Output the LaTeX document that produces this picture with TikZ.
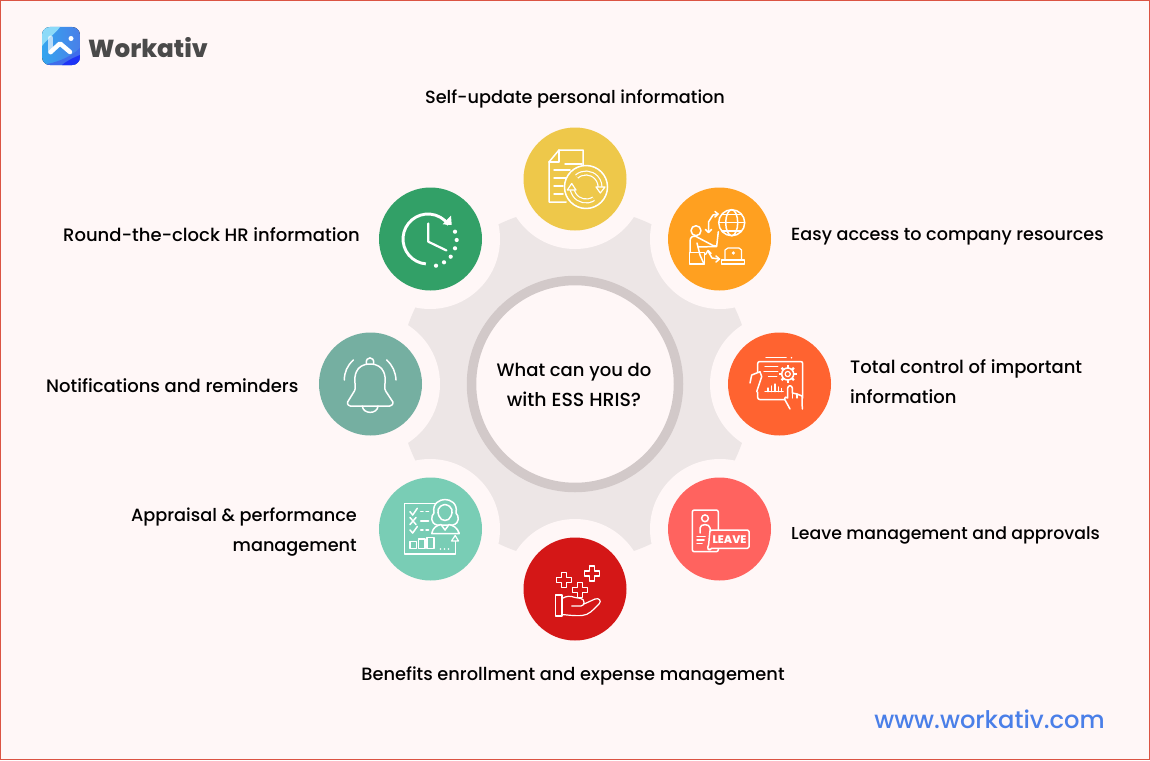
\documentclass[tikz,border=0pt]{standalone}
\usepackage{fontspec}
\setmainfont{Poppins Medium}
\usetikzlibrary{arrows.meta}
\definecolor{bgc}{HTML}{FFF7F7}
\definecolor{edgec}{HTML}{DB5443}
\definecolor{gearc}{HTML}{EDE6E6}
\definecolor{ringc}{HTML}{D2C9C9}
\definecolor{ca}{HTML}{EEC84A}
\definecolor{cb}{HTML}{FFA020}
\definecolor{cc}{HTML}{FF6330}
\definecolor{cd}{HTML}{FF635F}
\definecolor{ce}{HTML}{D41717}
\definecolor{cf}{HTML}{79CDB5}
\definecolor{cg}{HTML}{75AFA1}
\definecolor{ch}{HTML}{32A067}
\definecolor{urlc}{HTML}{4A7FE8}
\definecolor{logoc}{HTML}{4A4A4A}
\newcommand{\fs}[1]{\fontsize{#1}{30}\selectfont}
\tikzset{x=1pt,y=-1pt,
 lab/.style={font=\fs{18},text=black,inner sep=0pt},
 disc/.style={circle,minimum size=103pt,inner sep=0pt,fill=#1},
 halo/.style={circle,minimum size=140pt,inner sep=0pt,fill=bgc},
 ic/.style={draw=white,line width=1.5pt,line cap=round,line join=round}}
\newcommand{\plusshape}[2]{\draw[ic,fill=ce,line width=1.2pt] (#1-2.5,#2-7.5) -- (#1+2.5,#2-7.5) -- (#1+2.5,#2-2.5) -- (#1+7.5,#2-2.5) -- (#1+7.5,#2+2.5) -- (#1+2.5,#2+2.5) -- (#1+2.5,#2+7.5) -- (#1-2.5,#2+7.5) -- (#1-2.5,#2+2.5) -- (#1-7.5,#2+2.5) -- (#1-7.5,#2-2.5) -- (#1-2.5,#2-2.5) -- cycle;}
\begin{document}
\begin{tikzpicture}
\useasboundingbox (0,0) rectangle (1150,760);
\fill[bgc] (0,0) rectangle (1150,760);
\draw[edgec,line width=1pt] (0.5,0.5) rectangle (1149.5,759.5);
% gear
\node[circle,minimum size=354pt,inner sep=0pt,fill=gearc] (gear) at (575,384) {};
\foreach \n/\x/\y in {ha/575/179,hb/720/239,hc/780/384,hd/720/529,he/575/589,hf/430/529,hg/370/384,hh/430/239}
  \node[halo] (\n) at (\x,\y) {};
\node[circle,minimum size=207pt,inner sep=0pt,fill=bgc,draw=ringc,line width=9.5pt] (ring) at (575,384) {};
% discs
\node[disc=ca] (da) at (575,179) {};
\node[disc=cb] (db) at (719.5,239) {};
\node[disc=cc] (dc) at (779.5,384) {};
\node[disc=cd] (dd) at (719.5,529) {};
\node[disc=ce] (de) at (575,589) {};
\node[disc=cf] (df) at (430.5,529) {};
\node[disc=cg] (dg) at (370.5,384) {};
\node[disc=ch] (dh) at (430.5,239) {};
% labels
\node[lab,align=center] (center) at (574,385) {What can you do\\{\fs{18.9}with ESS HRIS?}};
\node[lab,anchor=base,font=\fs{17.7}] (la) at (575,103) {Self-update personal information};
\node[lab,anchor=base west,font=\fs{17.6}] (lb) at (791,240) {Easy access to company resources};
\node[lab,anchor=west,align=left] (lc) at (850,382) {Total control of important\\information};
\node[lab,anchor=base west,font=\fs{17.3}] (ld) at (791,539) {Leave management and approvals};
\node[lab,anchor=base,font=\fs{17.8}] (le) at (573,680) {Benefits enrollment and expense management};
\node[lab,anchor=east,align=right,font=\fs{17.7}] (lf) at (357,532) {Appraisal \& performance\\management};
\node[lab,anchor=base west] (lg) at (46,392) {Notifications and reminders};
\node[lab,anchor=base west] (lh) at (63,241) {Round-the-clock HR information};
\node[inner sep=0pt,anchor=base east,text=urlc,font=\fontsize{24.2}{24}\selectfont] (url) at (1105,728) {www.workativ.com};
% logo
\begin{scope}
\clip[rounded corners=8pt] (42,27) rectangle (80,65);
\fill[left color=urlc!70!cyan,right color=urlc] (42,27) rectangle (80,65);
\fill[cyan!45!white] (42,27) -- (60,27) .. controls (55,34) and (48,38) .. (42,46) -- cycle;
\fill[urlc!85!blue] (42,65) .. controls (55,63) and (70,58) .. (80,48) -- (80,65) -- cycle;
\fill[blue!60!urlc] (62,65) .. controls (68,60) and (75,57) .. (80,55) -- (80,65) -- cycle;
\end{scope}
\draw[white,opacity=.65,line width=5pt,line cap=round] (50.7,38) -- (50.7,52);
\draw[white,line width=4.5pt,line cap=round,line join=round] (50.7,52) -- (60,43.5) -- (70,52);
\fill[white] (71,38.5) circle[radius=2.5];
\node[inner sep=0pt,anchor=base west,text=logoc,font=\fontsize{24.6}{26}\selectfont\bfseries] (logo) at (88,57) {Workativ};
% icon: document + refresh
\draw[ic] (566,202) -- (549,202) -- (549,162) -- (559,150) -- (583,150) -- (583,167);
\draw[ic] (549,162) -- (559,162) -- (559,150);
\foreach \a/\b/\c in {565/582/164,554/570/170,554/566/178,554/563/186,554/563/194} \draw[ic] (\a,\c) -- (\b,\c);
\draw[ic,fill=ca] (586,187) circle[radius=21.5];
\draw[white,double=ca,line width=1.2pt,double distance=2.6pt] (586,187)+(-132:14) arc[start angle=-132,end angle=10,radius=14];
\draw[white,double=ca,line width=1.2pt,double distance=2.6pt] (586,187)+(57:14) arc[start angle=57,end angle=178,radius=14];
\draw[ic,fill=ca,line width=1.2pt] (596,187) -- (605,187) -- (600.3,193) -- cycle;
\draw[ic,fill=ca,line width=1.2pt] (567.3,190) -- (576,190) -- (571.7,183.5) -- cycle;
% icon: person, globe, laptop
\draw[ic] (696,230.7) circle[radius=5];
\draw[ic] (690,252.7) -- (690,241) .. controls (690,237) and (693,235.5) .. (696,236.5) -- (713,245.5) -- (716.7,246) -- (718.3,231.7);
\draw[ic] (698,247) -- (716.7,246.5);
\draw[ic] (697,243) -- (700,255) -- (704,264);
\draw[ic] (689.5,252.7) rectangle (704.5,264);
\draw[ic] (731.7,222.7) circle[radius=13];
\draw[ic] (731.7,222.7) ellipse[x radius=6,y radius=13];
\draw[ic] (719,222.7) -- (744.7,222.7) (722,214.5) -- (741.5,214.5) (722,231) -- (741.5,231);
\draw[ic] (718,214) -- (713,215) -- (708.5,222) -- (708.5,232);
\draw[ic] (715,211.5) -- (718,214) -- (715,217);
\draw[ic] (705.5,229.5) -- (708.5,232.5) -- (711.5,229.5);
\draw[ic,line width=1.2pt] (725,260) -- (725,250) -- (728,248) -- (739,248) -- (741.5,250) -- (741.5,260);
\draw[ic,line width=1.2pt] (721.7,260) rectangle (744.3,264);
\fill[white] (733.3,253) circle[radius=1.8];
\draw[ic] (708.5,252) -- (712,258) -- (719,259);
\draw[ic] (705.5,254.5) -- (708,250.5) -- (711,253.5);
\draw[ic] (716,256) -- (719.5,259) -- (716,262);
% icon: tablet, gear, hands
\draw[ic] (766,357.7) -- (786,357.7);
\fill[white] (791.5,357.7) circle[radius=.9];
\draw[ic,rounded corners=2pt] (757.7,372) -- (757.7,361.5) -- (802.7,361.5) -- (802.7,399.5) -- (757.7,399.5) -- (757.7,392);
\foreach \a in {0,45,...,315}
  \draw[white,line width=2.2pt] (787.7,374)+(\a:5.5) -- +(\a:8.8);
\draw[ic,fill=cc] (787.7,374) circle[radius=6];
\draw[ic,line width=1.2pt] (787.7,374) circle[radius=2.6];
\draw[ic] (765,366.7) -- (777.7,366.7) (764,371.7) -- (777.7,371.7) (768.5,376.7) -- (776.7,376.7);
\draw[ic] (765,391.7) -- (783,391.7);
\draw[ic,line width=1.2pt] (768,391.7) -- (768,388) (771.5,391.7) -- (771.5,386) (775,391.7) -- (775,384) (778.5,391.7) -- (778.5,387) (781.5,391.7) -- (781.5,388.5);
\draw[ic] (750,383) -- (751.7,375) -- (760,371.7) -- (761.7,376.7) -- (756.7,391.7);
\draw[ic,fill=cc] (790,409) -- (784.5,399) .. controls (784.5,397) and (786,396.5) .. (787.7,398) -- (787.7,388) .. controls (788,385) and (792,385) .. (792.3,388) -- (792.3,393) -- (797,394) -- (802,396) -- (802.3,409);
\draw[ic,line width=1.2pt] (797,394) -- (797,398) (792.5,393) -- (792.5,398);
% icon: leave
\draw[ic,rounded corners=2pt] (692.3,510) rectangle (718.3,551.7);
\draw[ic] (705,518.3) circle[radius=3.4];
\draw[ic] (700,533) -- (700,528) .. controls (700,523.5) and (710,523.5) .. (710,528) -- (710,531);
\draw[ic] (697,536.5) -- (705,536.5) (697,540) -- (704,540) (697,543.5) -- (702,543.5);
\draw[ic,fill=cd,rounded corners=1.5pt] (710,530) -- (749,530) -- (749,548.3) -- (710,548.3) -- (710,550.5) -- (707,548.5) -- (708.5,546) -- cycle;
\node[inner sep=0pt,text=white,font=\fontsize{11}{11}\selectfont\bfseries] (leave) at (729.5,539.3) {LEAVE};
% icon: plus and hand
\plusshape{564}{580}
\plusshape{591.7}{573.5}
\plusshape{580}{590}
\draw[ic,line width=1.2pt] (555.7,595) rectangle (562,616);
\draw[ic,line width=1.2pt] (562,598.5) .. controls (567,595.5) and (571,596) .. (575,597.5) -- (581,598.5) .. controls (585,599) and (585,606) .. (581,606) -- (571.7,606);
\draw[ic,line width=1.2pt] (584,604) -- (595,599) .. controls (599,597.5) and (602,601) .. (599,604) .. controls (593,610) and (589,615) .. (582,615.5) .. controls (574,616) and (568,615) .. (562,614.5);
% icon: appraisal
\draw[ic] (436,503.5) -- (404.5,503.5) -- (404.5,554) -- (455.7,554) -- (455.7,540);
\draw[ic] (410,511.7) -- (412.7,515) -- (417.3,508.3);
\draw[ic] (420.7,511.7) -- (423,511.7) (426,511.7) -- (428.5,511.7);
\draw[ic] (410,517.5) -- (416,524.5) (416,517.5) -- (410,524.5);
\draw[ic] (420.7,521) -- (428.5,521);
\draw[ic] (410,530) -- (412.7,533) -- (417.3,526.5);
\draw[ic] (420.7,530) -- (423,530) (426,530) -- (428.5,530);
\draw[ic,line width=1.2pt] (410,548.3) rectangle (416.5,541.5) (418.5,548.3) rectangle (425,539) (427,548.3) rectangle (434,537.5);
\fill[white] (440.5,549) circle[radius=.8] (444.5,549) circle[radius=.8] (448.5,549) circle[radius=.8];
\draw[ic,fill=cf] (437,525) .. controls (430,523) and (431,516) .. (434,513) .. controls (432,503) and (440,499.5) .. (445,499.5) .. controls (450,499.5) and (458,503) .. (456,513) .. controls (459,516) and (460,523) .. (453,525) -- cycle;
\draw[ic,fill=cf] (445,504.5) .. controls (437,506) and (437,512) .. (439,516) .. controls (441,522) and (449,522) .. (451,516) .. controls (453,512) and (453,506) .. (445,504.5) -- cycle;
\draw[ic,fill=cf] (431.7,533.5) .. controls (433,527) and (437,525.5) .. (441,524.5) -- (445,530) -- (449,524.5) .. controls (453,525.5) and (457,527) .. (459.3,533.5) -- cycle;
\draw[ic,fill=cf,line width=1.2pt] (451.5,541) -- (455.2,535.5) -- (458.5,541) -- cycle;
% icon: bell
\draw[ic] (366.5,363.5) .. controls (365,356) and (375,356) .. (373.5,363.5);
\draw[ic,rounded corners=1.2pt] (349,406) -- (347,403) -- (355,390) .. controls (355.5,385) and (354,378) .. (356,373) .. controls (358,367) and (364,364) .. (370,364) .. controls (376,364) and (382,367) .. (384,373) .. controls (386,378) and (384.5,385) .. (385,390) -- (393.5,403) -- (391,406) -- cycle;
\draw[ic] (362.3,406) .. controls (363,414.5) and (377.5,414.5) .. (378,406);
\draw[ic] (353.3,360) .. controls (347,366) and (344.5,372) .. (344.3,380);
\draw[ic] (386.7,360) .. controls (393,366) and (395.5,372) .. (396,380);
% icon: clock
\draw[white,line width=2.9pt] (428,239)+(95:25) arc[start angle=95,end angle=325,radius=25];
\fill[white] (451,215.5) -- (451.7,225) -- (442.7,224.3) -- cycle;
\draw[white,line width=2.2pt,line cap=round,line join=round] (428.3,223.5) -- (428.3,241.7) -- (446.5,250.5);
\foreach \x/\y in {455/231.7,456.7/240,455/248.3,450.7/256.7,444/262.3,436/265.7}
  \fill[white] (\x,\y) circle[radius=2.1];
\end{tikzpicture}
\end{document}
